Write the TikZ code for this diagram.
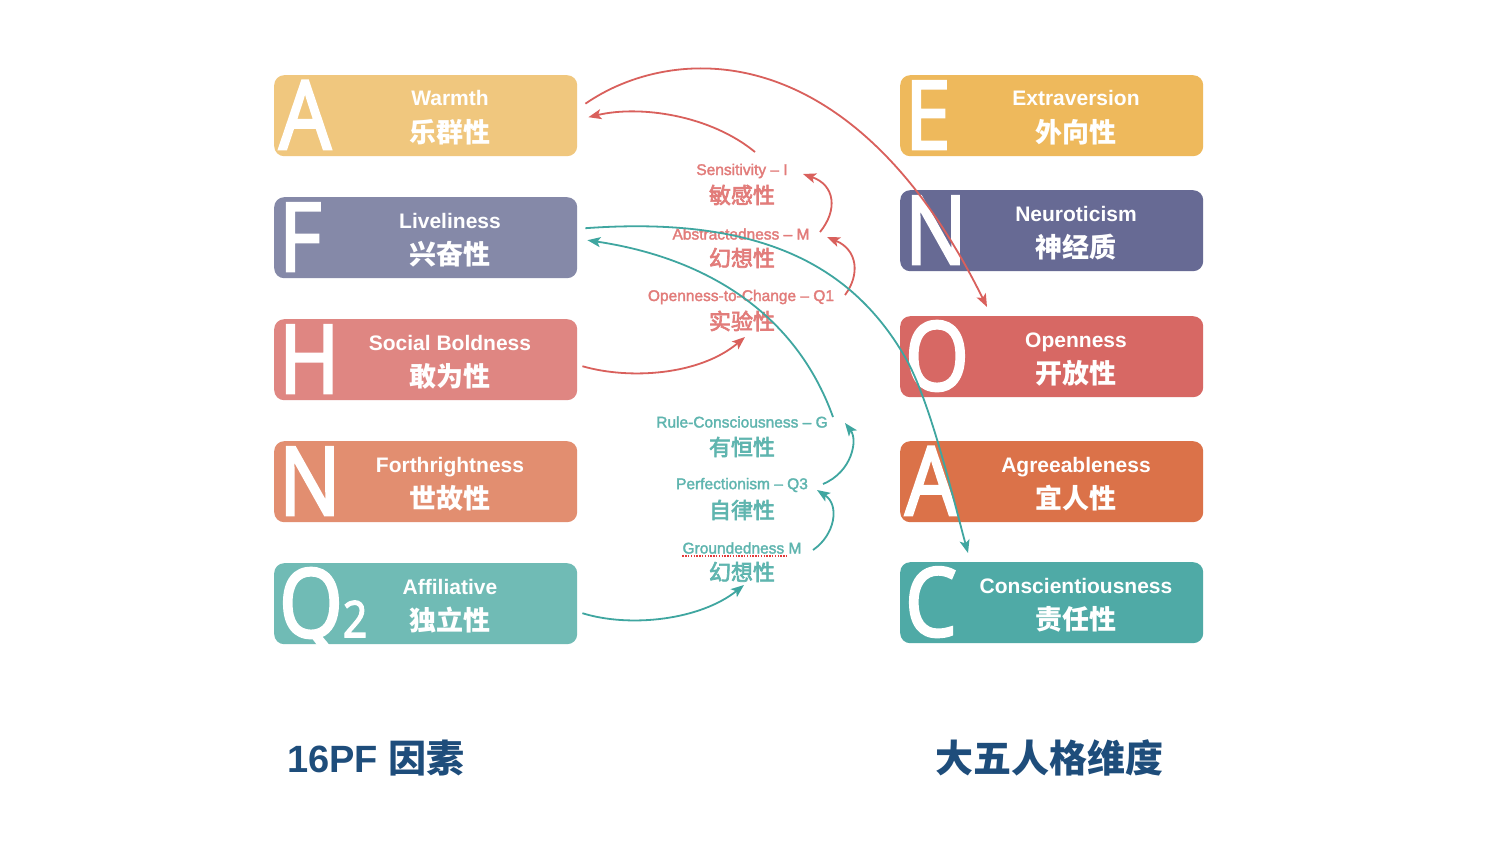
\documentclass[tikz,border=0pt]{standalone}
\usepackage{fontspec}
\setmainfont{Liberation Sans}
\newfontfamily\cjk{Noto Sans CJK SC}
\newfontfamily\cjkmed[FakeBold=3]{Noto Sans CJK SC}
\newfontfamily\medsans[FakeBold=2]{Liberation Sans}
\newfontfamily\bigletter[FakeBold=3]{Open Sans}
\usetikzlibrary{arrows.meta,calc}
\definecolor{cA}{HTML}{F0C77E}
\definecolor{cF}{HTML}{8589A8}
\definecolor{cH}{HTML}{DF8682}
\definecolor{cN}{HTML}{E28E70}
\definecolor{cQ}{HTML}{70BBB5}
\definecolor{cE}{HTML}{EEB95C}
\definecolor{cNe}{HTML}{676A94}
\definecolor{cO}{HTML}{D76864}
\definecolor{cAg}{HTML}{DB7249}
\definecolor{cC}{HTML}{4FAAA6}
\definecolor{redline}{HTML}{D9605C}
\definecolor{tealline}{HTML}{3FA6A0}
\definecolor{redtext}{HTML}{E27C7A}
\definecolor{tealtext}{HTML}{5FB5AF}
\definecolor{titleblue}{HTML}{1E4D7B}
\definecolor{spellred}{HTML}{E23B3B}
\newcommand\mkbox[7]{%
  \node[box, fill=#2] (#1) at (#3,#4) {};
  \node[letter] (#1L) at ({#3+5},{#4+74}) {#5};
  \node[entext] (#1E) at ({#3+176},{#4+31}) {#6};
  \node[zhtext] (#1Z) at ({#3+176},{#4+57}) {#7};
}
\begin{document}
\begin{tikzpicture}[x=1pt,y=-1pt,
  box/.style={rounded corners=10pt, inner sep=0pt, minimum width=303pt, minimum height=81pt, anchor=north west, draw=none},
  letter/.style={font=\bigletter\fontsize{95}{95}\selectfont, text=white, anchor=base west, inner sep=0pt, xscale=0.86},
  entext/.style={font=\bfseries\fontsize{21}{21}\selectfont, text=white, anchor=base, inner sep=0pt},
  zhtext/.style={font=\cjk\bfseries\fontsize{27}{27}\selectfont, text=white, inner sep=0pt},
  redlab/.style={font=\medsans\fontsize{15.5}{15.5}\selectfont, text=redtext, inner sep=0pt},
  redzh/.style={font=\cjkmed\fontsize{22}{22}\selectfont, text=redtext, inner sep=0pt},
  teallab/.style={font=\medsans\fontsize{15.5}{15.5}\selectfont, text=tealtext, inner sep=0pt},
  tealzh/.style={font=\cjkmed\fontsize{22}{22}\selectfont, text=tealtext, inner sep=0pt},
  redarrow/.style={draw=redline, line width=1.8pt, -{Stealth[length=13pt,width=10pt,inset=3pt]}},
  tealarrow/.style={draw=tealline, line width=1.8pt, -{Stealth[length=13pt,width=10pt,inset=3pt]}},
  maintitle/.style={font=\bfseries\fontsize{38}{38}\selectfont, text=titleblue, inner sep=0pt}
]
\useasboundingbox (0,0) rectangle (1504,856);
\fill[white] (0,0) rectangle (1504,856);

% left boxes (16PF)
\mkbox{bA}{cA}{274}{75}{A}{Warmth}{乐群性}
\mkbox{bF}{cF}{274}{197}{F}{Liveliness}{兴奋性}
\mkbox{bH}{cH}{274}{319}{H}{Social Boldness}{敢为性}
\mkbox{bN}{cN}{274}{441}{N}{Forthrightness}{世故性}
\mkbox{bQ}{cQ}{274}{563}{Q{\fontsize{50}{50}\selectfont 2}}{Affiliative}{独立性}

% right boxes (Big Five)
\mkbox{bE}{cE}{900}{75}{E}{Extraversion}{外向性}
\mkbox{bNe}{cNe}{900}{190}{N}{Neuroticism}{神经质}
\mkbox{bO}{cO}{900}{316}{O}{Openness}{开放性}
\mkbox{bAg}{cAg}{900}{441}{A}{Agreeableness}{宜人性}
\mkbox{bC}{cC}{900}{562}{C}{Conscientiousness}{责任性}

% middle labels
\node[redlab] (sI) at (742,171) {Sensitivity – I};
\node[redzh] (zI) at (742,195) {敏感性};
\node[redlab] (sM) at (741,234) {Abstractedness – M};
\node[redzh] (zM) at (742,258) {幻想性};
\node[redlab] (sQ1) at (741,297) {Openness-to-Change – Q1};
\node[redzh] (zQ1) at (742,321) {实验性};
\node[teallab] (sG) at (742,422) {Rule-Consciousness – G};
\node[tealzh] (zG) at (742,447) {有恒性};
\node[teallab] (sQ3) at (742,485) {Perfectionism – Q3};
\node[tealzh] (zQ3) at (742,510) {自律性};
\node[teallab] (sGr) at (742,548) {Groundedness M};
\node[tealzh] (zGr) at (742,572) {幻想性};
\draw[spellred, line width=1.4pt, dash pattern=on 1.4pt off 1.4pt] ($(sGr.south west)+(0,2)$) -- ($(sGr.south west)+(104,2)$);

% named free ends near the labels
\coordinate (e2s) at (755,152);
\coordinate (e3s) at (820,232);
\coordinate (e3t) at (803,174);
\coordinate (e4s) at (845,295);
\coordinate (e4t) at (827,237);
\coordinate (e5t) at (745,337);
\coordinate (e6m) at (905,357);
\coordinate (e7s) at (833,417);
\coordinate (e8s) at (823,484);
\coordinate (e8t) at (845,423);
\coordinate (e9s) at (813,550);
\coordinate (e9t) at (817,490);
\coordinate (e10t) at (744,585);

% red connectors
\draw[redarrow] ($(bA.east)+(8,-12)$) .. controls (670,45) and (850,30) .. ($(bO.north west)+(87,-9)$);
\draw[redarrow] (e2s) .. controls (710,115) and (640,105) .. ($(bA.east)+(11,1.5)$);
\draw[redarrow] (e3s) .. controls (838,210) and (835,185) .. (e3t);
\draw[redarrow] (e4s) .. controls (860,275) and (858,250) .. (e4t);
\draw[redarrow] ($(bH.east)+(5,6.5)$) .. controls (630,380) and (700,375) .. (e5t);

% teal connectors
\draw[tealarrow] ($(bF.east)+(8,-9.5)$) .. controls (755,216) and (850,262) .. (e6m)
  .. controls (930,400) and (953,498) .. ($(bC.north west)+(68,-9)$);
\draw[tealarrow] (e7s) .. controls (796,314) and (707,258) .. ($(bF.east)+(10,2.5)$);
\draw[tealarrow] (e8s) .. controls (852,472) and (858,440) .. (e8t);
\draw[tealarrow] (e9s) .. controls (835,535) and (840,505) .. (e9t);
\draw[tealarrow] ($(bQ.east)+(5,9.5)$) .. controls (630,628) and (700,620) .. (e10t);

% titles
\node[maintitle, anchor=west] (tL) at (287,758) {16PF {\cjk\bfseries 因素}};
\node[maintitle] (tR) at (1049,758) {\cjk\bfseries 大五人格维度};
\end{tikzpicture}
\end{document}
